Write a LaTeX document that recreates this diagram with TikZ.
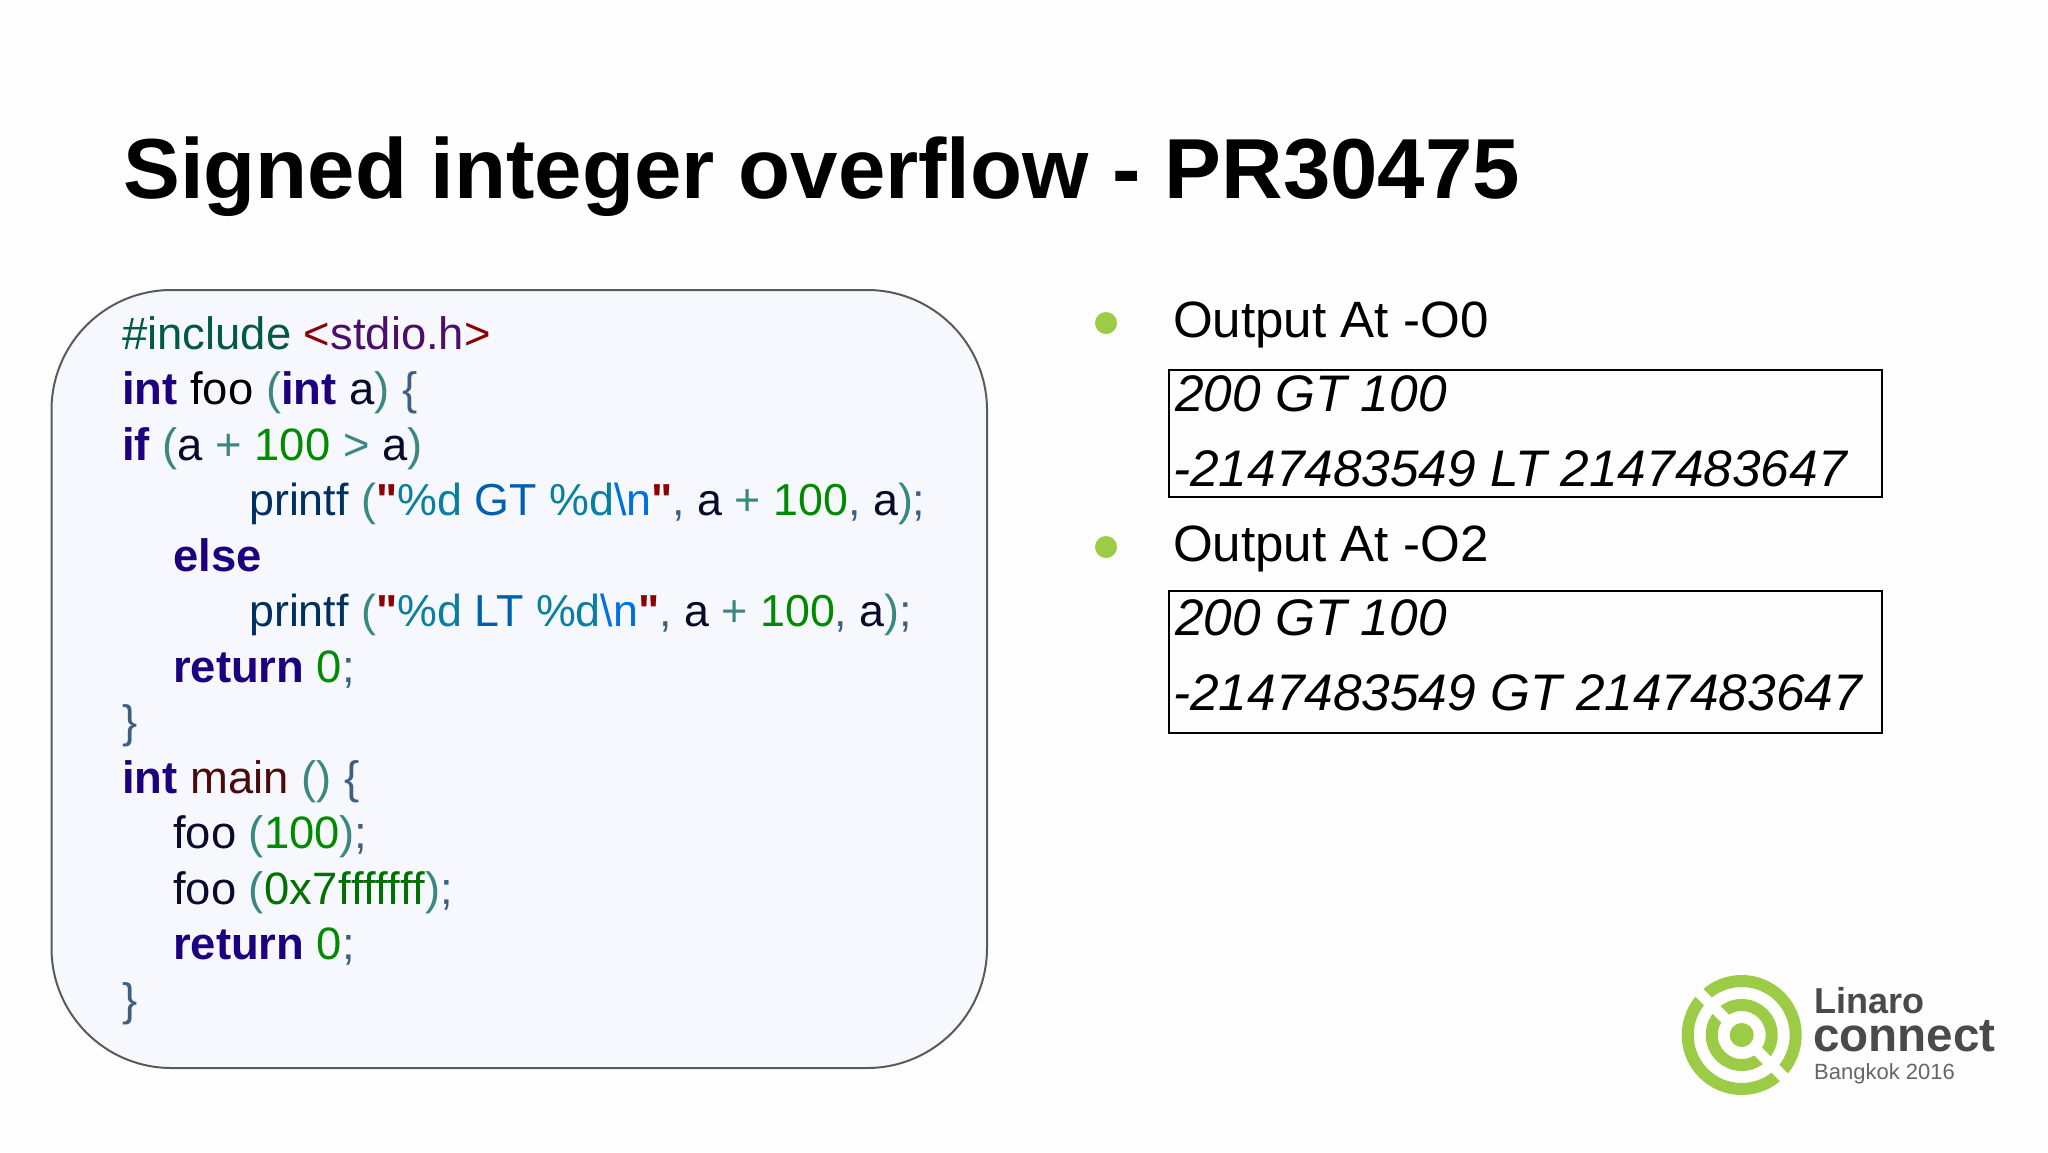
\documentclass[tikz,border=0pt]{standalone}
\usepackage{fontspec}
\setmainfont{Liberation Sans}
\newfontfamily\rawquote{Liberation Sans}
\newfontfamily\hexfont[LetterSpace=1.1]{Liberation Sans}
\definecolor{slidebg}{HTML}{FEFEFE}
\definecolor{boxfill}{HTML}{F7F8FE}
\definecolor{boxedge}{HTML}{5A5A5A}
\definecolor{kwblue}{HTML}{1C0080}
\definecolor{numgreen}{HTML}{008A00}
\definecolor{hexgreen}{HTML}{007000}
\definecolor{opteal}{HTML}{3A8880}
\definecolor{brslate}{HTML}{3F5F80}
\definecolor{strred}{HTML}{8B0000}
\definecolor{fmtteal}{HTML}{0A80A0}
\definecolor{fmtblue}{HTML}{0060B0}
\definecolor{escblue}{HTML}{0070E0}
\definecolor{fnblue}{HTML}{003060}
\definecolor{incteal}{HTML}{00594A}
\definecolor{hdrpurple}{HTML}{4B0F6B}
\definecolor{mainred}{HTML}{4A0A0A}
\definecolor{vardark}{HTML}{0A0A2A}
\definecolor{linarogreen}{HTML}{9CCB45}
\definecolor{linarogray}{HTML}{4A4A4C}
\definecolor{bangkokgray}{HTML}{66666A}
\newcommand{\kw}[1]{\textbf{\textcolor{kwblue}{#1}}}
\newcommand{\num}[1]{\textcolor{numgreen}{#1}}
\newcommand{\op}[1]{\textcolor{opteal}{#1}}
\newcommand{\br}[1]{\textcolor{brslate}{#1}}
\newcommand{\vr}[1]{\textcolor{vardark}{#1}}
\newcommand{\qt}{\textcolor{strred}{{\rawquote\bfseries"}}}
\newcommand{\fmt}[1]{\textcolor{fmtteal}{\%d} \textcolor{fmtblue}{#1} \textcolor{fmtteal}{\%d}\textcolor{escblue}{\textbackslash n}}
\tikzset{
    codeline/.style={anchor=base west, inner sep=0pt, font=\fontsize{45.4}{45.4}\selectfont},
    printline/.style={anchor=base west, inner sep=0pt, font=\fontsize{44.8}{44.8}\selectfont},
    outline/.style={anchor=base west, inner sep=0pt, font=\fontsize{51.1}{51.1}\selectfont},
    outitem/.style={anchor=base west, inner sep=0pt, font=\fontsize{51.4}{51.4}\selectfont\itshape},
    outbox/.style={draw=black, line width=2pt},
    bulletdot/.style={fill=linarogreen, draw=none}
}
\begin{document}
\begin{tikzpicture}[x=1pt, y=-1pt]

                \fill[slidebg] (0,0) rectangle (2048,1152);
                \node[anchor=base west, inner sep=0pt, font=\fontsize{85.2}{85.2}\selectfont\bfseries] (title) at (123,198) {Signed integer overflow - PR30475};

                \draw[draw=boxedge, fill=boxfill, line width=2pt, rounded corners=120pt] (51.5,290) rectangle (987,1068);

                \node[codeline] (l1) at (122,349) {\textcolor{incteal}{\#include} \textcolor{strred}{<}\textcolor{hdrpurple}{stdio.h}\textcolor{strred}{>}};
                \node[codeline] (l2) at (122,404.5) {\kw{int} foo \op{(}\kw{int} \vr{a}\op{)} \br{\{}};
                \node[codeline] (l3) at (122,460) {\kw{if} \op{(}\vr{a} \op{+} \num{100} \op{>} \vr{a}\op{)}};
                \node[printline] (l4) at (249,515.5) {\textcolor{fnblue}{printf} \op{(}\qt\fmt{GT}\qt\br{,} \vr{a} \op{+} \num{100}\br{,} \vr{a}\op{)}\br{;}};
                \node[codeline] (l5) at (173,571) {\kw{else}};
                \node[printline] (l6) at (249,626.5) {\textcolor{fnblue}{printf} \op{(}\qt\fmt{LT}\qt\br{,} \vr{a} \op{+} \num{100}\br{,} \vr{a}\op{)}\br{;}};
                \node[codeline] (l7) at (173,682) {\kw{return} \num{0}\br{;}};
                \node[codeline] (l8) at (122,737.5) {\br{\}}};
                \node[codeline] (l9) at (122,793) {\kw{int} \textcolor{mainred}{main} \op{()} \br{\{}};
                \node[codeline] (l10) at (173,848.5) {\vr{foo} \op{(}\num{100}\op{)}\br{;}};
                \node[codeline] (l11) at (173,904) {\vr{foo} \op{(}\textcolor{hexgreen}{\hexfont 0x7fffffff}\op{)}\br{;}};
                \node[codeline] (l12) at (173,959.5) {\kw{return} \num{0}\br{;}};
                \node[codeline] (l13) at (122,1015) {\br{\}}};

                \fill[bulletdot] (1106,323) circle (11pt);
                \node[outline] (o0) at (1173,337) {Output At -O0};
                \draw[outbox] (1169,370) rectangle (1882,497);
                \node[outitem] (o0a) at (1175,411) {200 GT 100};
                \node[outitem] (o0b) at (1173,486) {-2147483549 LT 2147483647};

                \fill[bulletdot] (1106,547) circle (11pt);
                \node[outline] (o2) at (1173,561) {Output At -O2};
                \draw[outbox] (1169,591) rectangle (1882,733);
                \node[outitem] (o2a) at (1175,635) {200 GT 100};
                \node[outitem] (o2b) at (1173,710) {-2147483549 GT 2147483647};

                \draw[linarogreen, line width=12pt] (1741.7,1035) circle (54pt);
                \draw[linarogreen, line width=12pt] (1741.7,1035) circle (30pt);
                \fill[linarogreen] (1741.7,1035) circle (12pt);
                \draw[slidebg, line width=11pt] (1741.7,1035) ++(135:-18pt) -- ++(135:-47pt);
                \draw[slidebg, line width=11pt] (1741.7,1035) ++(135:18pt) -- ++(135:47pt);
                \node[anchor=base west, inner sep=0pt, text=linarogray, font=\fontsize{36}{36}\selectfont\bfseries] (linaro) at (1814,1013) {Linaro};
                \node[anchor=base west, inner sep=0pt, text=linarogray, font=\fontsize{47.6}{47.6}\selectfont\bfseries] (connect) at (1813,1051) {connect};
                \node[anchor=base west, inner sep=0pt, text=bangkokgray, font=\fontsize{22}{22}\selectfont] (bangkok) at (1814,1079) {Bangkok 2016};
            \end{tikzpicture}
\end{document}
